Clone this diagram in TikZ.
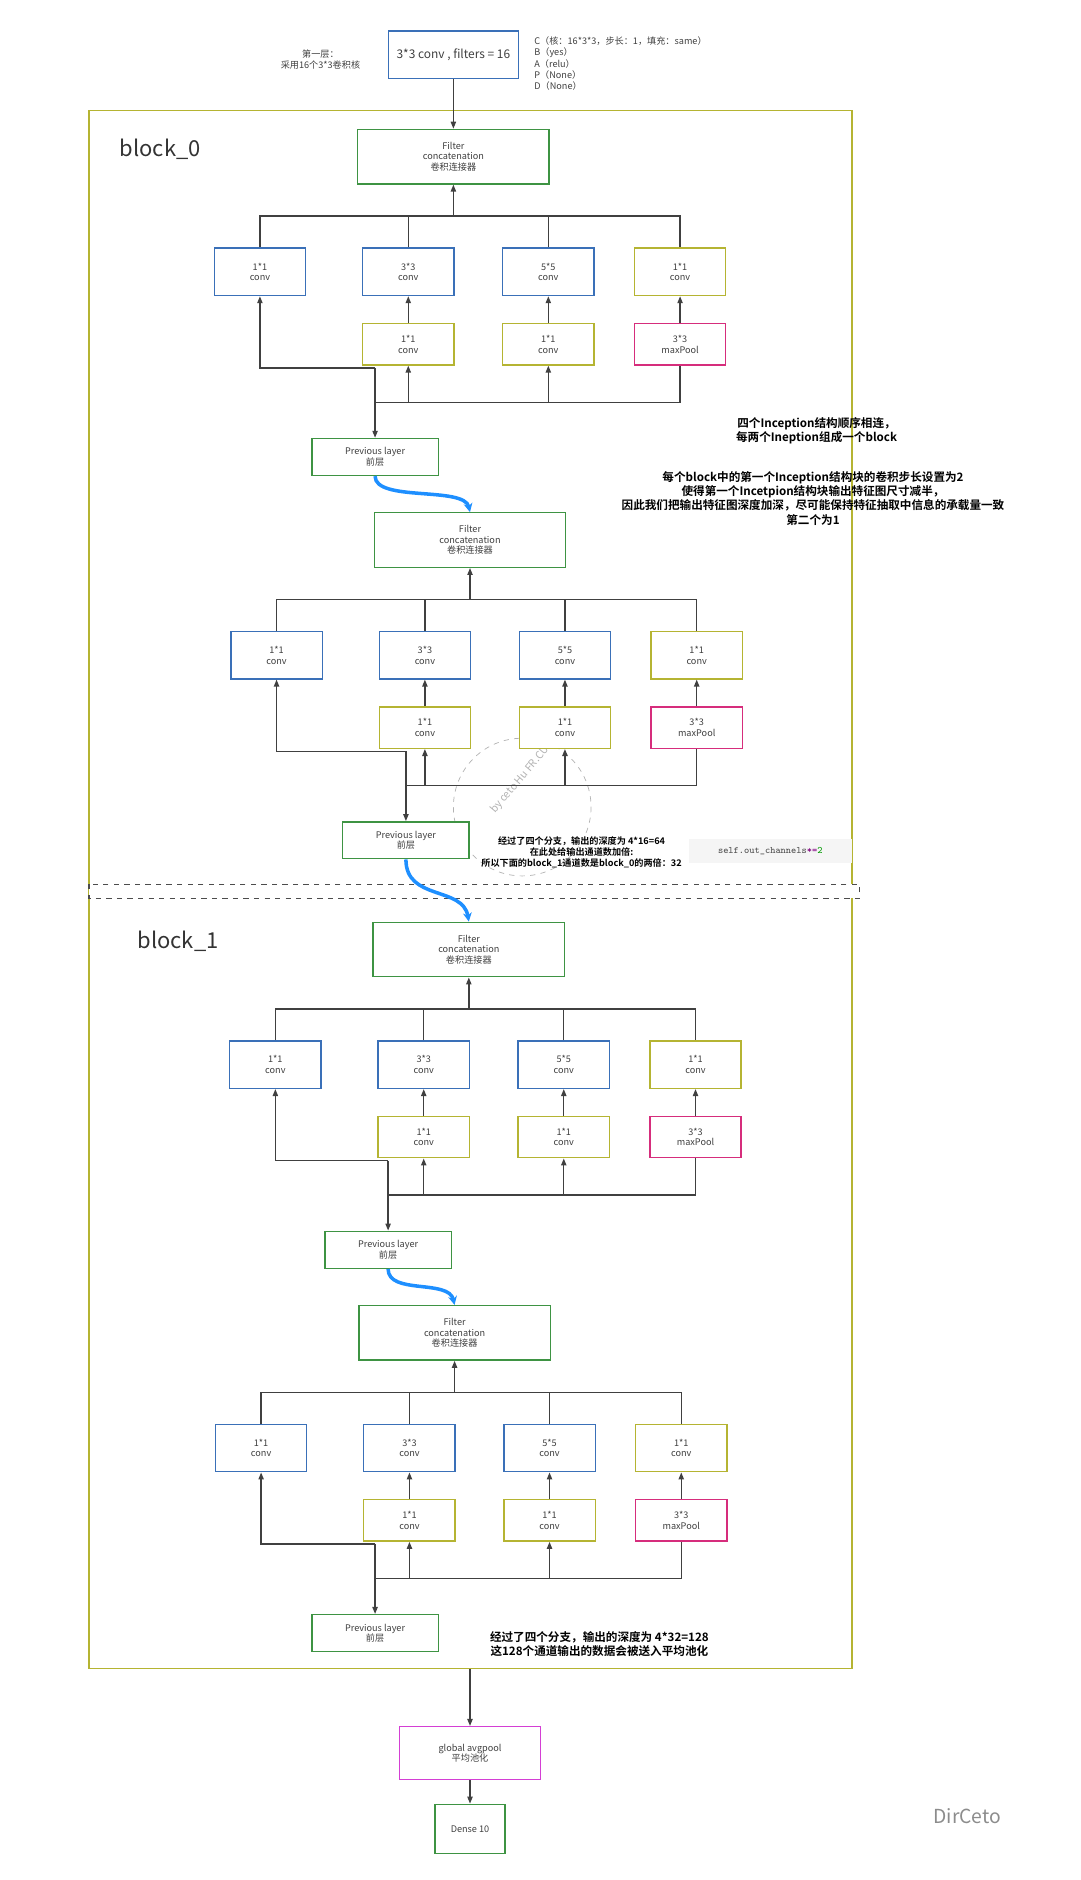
\documentclass[tikz,border=0pt]{standalone}
\usepackage{fontspec}
\setmainfont{Noto Sans CJK SC}[BoldFont={Noto Sans CJK SC Bold}]
\usetikzlibrary{arrows.meta}
\definecolor{cblue}{HTML}{3A70B8}
\definecolor{cgreen}{HTML}{3E9343}
\definecolor{colive}{HTML}{B5B432}
\definecolor{cpink}{HTML}{D62D7C}
\definecolor{cmag}{HTML}{D43FD4}
\definecolor{cflow}{HTML}{1E8FFF}

% one inception module: #1 name, #2 centre x, #3 top y, #4 previous layer x
\newcommand{\incmodule}[4]{
	\node[box=cgreen,minimum width=109pt,minimum height=31pt] (#1c) at (#2,#3+23) {Filter\\concatenation\\卷积连接器};
	\node[box=cblue] (#1a) at (#2-163,#3+120) {1*1\\conv};
	\node[box=cblue] (#1b) at (#2-38,#3+120) {3*3\\conv};
	\node[box=cblue] (#1d) at (#2+80,#3+120) {5*5\\conv};
	\node[box=colive] (#1e) at (#2+191,#3+120) {1*1\\conv};
	\node[box=colive,minimum height=23.6pt] (#1f) at (#2-38,#3+181) {1*1\\conv};
	\node[box=colive,minimum height=23.6pt] (#1g) at (#2+80,#3+181) {1*1\\conv};
	\node[box=cpink,minimum height=23.6pt] (#1h) at (#2+191,#3+181) {3*3\\maxPool};
	\node[box=cgreen,minimum width=72pt,minimum height=21pt] (#1p) at (#4,#3+276) {Previous layer\\前层};
	\coordinate (#1t) at (#2,#3+73);
	\coordinate (#1j) at (#4,#3+201);
	\coordinate (#1k) at (#4,#3+230);
	\draw[line] (#1a.north) |- (#1d.north |- #1t) -| (#1e.north);
	\draw[line] (#1b.north) -- (#1b.north |- #1t);
	\draw[line] (#1d.north) -- (#1d.north |- #1t);
	\draw[edge] (#1t) -- (#1c);
	\draw[edge] (#1f) -- (#1b);
	\draw[edge] (#1g) -- (#1d);
	\draw[edge] (#1h) -- (#1e);
	\draw[edge] (#1j) -| (#1a.south);
	\draw[line] (#1k) -| (#1h.south);
	\draw[edge] (#1f.south |- #1k) -- (#1f.south);
	\draw[edge] (#1g.south |- #1k) -- (#1g.south);
	\draw[edge] (#1j) -- (#1p);
}

\begin{document}
\begin{tikzpicture}[x=0.02374cm,y=-0.02374cm,
	box/.style={draw=#1,thick,fill=white,minimum width=52pt,minimum height=27pt,align=center,
		inner sep=1pt,font=\fontsize{5.2}{6}\selectfont,text=black!75},
	line/.style={draw=black!75,thick},
	edge/.style={-{Triangle[length=4pt,width=3pt]},draw=black!75,thick},
	flow/.style={-{Stealth[length=5pt,width=5pt]},draw=cflow,line width=2pt},
	note/.style={align=center,font=\bfseries\fontsize{6.6}{8}\selectfont},
	]
	\useasboundingbox (0,0) rectangle (910,1584);
	% outer frame and split
	\draw[colive,thick] (75,93) rectangle (718,1406);
	\draw[black!70,thick,dashed,fill=white] (75,745) rectangle (724,757);
	\node[font=\fontsize{12.5}{14}\selectfont,text=black!80] (b0) at (135,126) {block\_0};
	\node[font=\fontsize{12.5}{14}\selectfont,text=black!80] (b1) at (150,793) {block\_1};

	% first layer
	\node[box=cblue,minimum width=74pt,font=\fontsize{6.8}{8}\selectfont] (first) at (382,46) {3*3 conv , filters = 16};
	\node[align=center,font=\fontsize{5.2}{6}\selectfont,text=black!75] (firstl) at (270,50) {第一层：\\采用16个3*3卷积核};
	\node[align=left,anchor=north west,font=\fontsize{5.2}{6.3}\selectfont,text=black!75] (firstr) at (445,26) {C（核：16*3*3，步长：1，填充：same）\\B（yes）\\A（relu）\\P（None）\\D（None）};

	% watermark
	\draw[black!30,dashed] (440,680) circle (58);
	\node[text=black!30,rotate=50,font=\fontsize{6}{7}\selectfont] (wm) at (440,655) {by ceto Hu FR.CUP};

	\incmodule{m1}{382}{109}{316}
	\incmodule{m2}{396}{432}{342}
	\incmodule{m3}{395}{777}{327}
	\incmodule{m4}{383}{1100}{316}

	\draw[edge] (first) -- (m1c);
	\draw[flow] (m1p.south) .. controls +(0,22) and +(-5,-22) .. (m2c.north);
	\draw[flow] (m2p.south) .. controls +(0,35) and +(-5,-30) .. (m3c.north);
	\draw[flow] (m3p.south) .. controls +(0,22) and +(-5,-22) .. (m4c.north);

	% notes
	\node[note] (n1) at (688,363) {四个Inception结构顺序相连，\\每两个Ineption组成一个block};
	\node[note] (n2) at (685,420) {每个block中的第一个Inception结构块的卷积步长设置为2\\使得第一个Incetpion结构块输出特征图尺寸减半，\\因此我们把输出特征图深度加深，尽可能保持特征抽取中信息的承载量一致\\第二个为1};
	\node[note,font=\bfseries\fontsize{5.2}{6.3}\selectfont] (n3) at (490,718) {经过了四个分支，输出的深度为 4*16=64\\在此处给输出通道数加倍:\\所以下面的block\_1通道数是block\_0的两倍：32};
	\node[fill=black!4,minimum width=93pt,minimum height=13.5pt,font=\ttfamily\fontsize{5.6}{7}\selectfont,text=black!70] (code) at (649,717) {self.out\_channels\textcolor{violet}{*=}\textcolor{green!60!black}{2}};
	\node[note] (n4) at (505,1385) {经过了四个分支，输出的深度为 4*32=128\\这128个通道输出的数据会被送入平均池化};
	\node[text=black!45,font=\fontsize{11}{13}\selectfont] (logo) at (815,1530) {DirCeto};

	% head
	\coordinate (outb) at (396,1406);
	\node[box=cmag,minimum width=80pt,minimum height=30pt] (pool) at (396,1477) {global avgpool\\平均池化};
	\node[box=cgreen,minimum width=40pt,minimum height=28pt] (dense) at (396,1541) {Dense 10};
	\draw[edge] (outb) -- (pool);
	\draw[edge] (pool) -- (dense);
\end{tikzpicture}
\end{document}
